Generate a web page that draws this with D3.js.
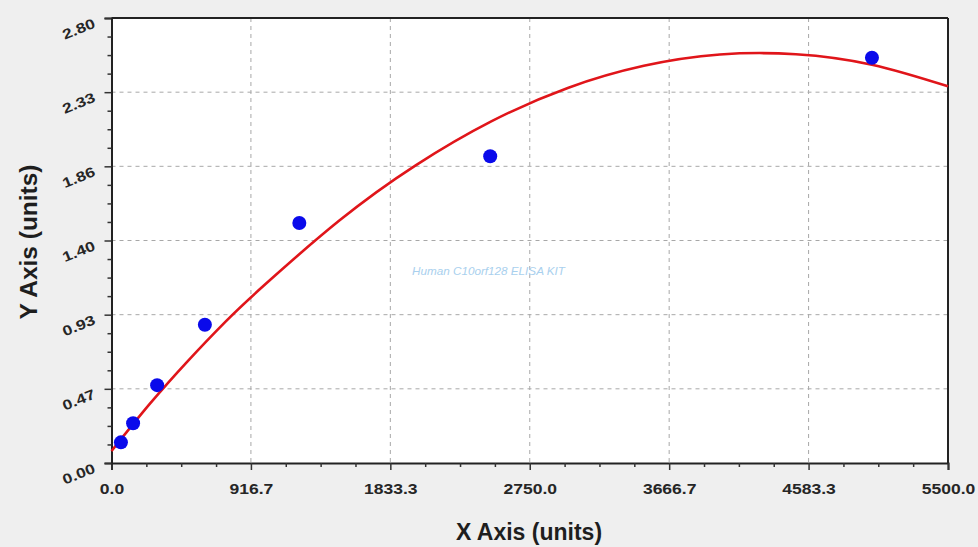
<!DOCTYPE html>
<html><head><meta charset="utf-8">
<script src="https://cdn.jsdelivr.net/npm/d3@7"></script>
<style>
html,body{margin:0;padding:0;background:#efefef;}
svg{display:block;}
text{font-family:"Liberation Sans",Arial,sans-serif;}
</style></head>
<body>
<script>
// Data
const pointX = [62, 142, 300, 614, 1235, 2490, 5000];
const pointY = [0.13, 0.25, 0.49, 0.87, 1.51, 1.93, 2.55];
const curveX = [0, 250, 500, 750, 1000, 1500, 2000, 2500, 3000, 3500, 4000, 4500, 5000, 5500];
const curveY = [0.075, 0.37, 0.64, 0.89, 1.115, 1.527, 1.873, 2.151, 2.36, 2.499, 2.57, 2.572, 2.506, 2.37];
const xTicks = [0, 916.7, 1833.3, 2750.0, 3666.7, 4583.3, 5500.0];
const yTicks = [0, 0.4667, 0.9333, 1.4, 1.8667, 2.3333, 2.8];
const yTickLabels = ["0.00", "0.47", "0.93", "1.40", "1.86", "2.33", "2.80"];
const xTitle = "X Axis (units)";
const yTitle = "Y Axis (units)";
const watermark = "Human C10orf128 ELISA KIT";

const W = 978, H = 547;
const m = {left: 111.5, right: 30, top: 18, bottom: 84};
const iw = W - m.left - m.right, ih = H - m.top - m.bottom;
const STRETCH = 1.25;

const svg = d3.select("body").append("svg").attr("width", W).attr("height", H);
svg.append("rect").attr("width", W).attr("height", H).attr("fill", "#efefef");

const x = d3.scaleLinear().domain([0, 5500]).range([0, iw]);
const y = d3.scaleLinear().domain([0, 2.8]).range([ih, 0]);

const g = svg.append("g").attr("transform", `translate(${m.left},${m.top})`);
g.append("rect").attr("width", iw).attr("height", ih).attr("fill", "#fff");

// grid
g.append("g").selectAll("line").data(xTicks.slice(1, -1)).join("line")
  .attr("x1", d => x(d)).attr("x2", d => x(d)).attr("y1", 0).attr("y2", ih)
  .attr("stroke", "#a8a8a8").attr("stroke-width", 1).attr("stroke-dasharray", "4,4");
g.append("g").selectAll("line").data(yTicks.slice(1, -1)).join("line")
  .attr("y1", d => y(d)).attr("y2", d => y(d)).attr("x1", 0).attr("x2", iw)
  .attr("stroke", "#a8a8a8").attr("stroke-width", 1).attr("stroke-dasharray", "4,4");

// minor ticks
const xMinor = d3.range(0, 24).map(i => i * 5500 / 24).filter((d, i) => i % 4 !== 0);
const yMinor = d3.range(0, 24).map(i => i * 2.8 / 24).filter((d, i) => i % 4 !== 0);

const xAxis = g.append("g").attr("transform", `translate(0,${ih})`)
  .call(d3.axisBottom(x).tickValues(xTicks).tickSize(7).tickFormat(d3.format(".1f")));
const yAxis = g.append("g")
  .call(d3.axisLeft(y).tickValues(yTicks).tickSize(7).tickFormat((d, i) => yTickLabels[i]));
g.append("g").attr("transform", `translate(0,${ih})`)
  .call(d3.axisBottom(x).tickValues(xMinor).tickSize(4).tickFormat(""))
  .call(a => a.select(".domain").remove());
g.append("g")
  .call(d3.axisLeft(y).tickValues(yMinor).tickSize(4).tickFormat(""))
  .call(a => a.select(".domain").remove());

[xAxis, yAxis].forEach(a => {
  a.select(".domain").attr("stroke", "#222").attr("stroke-width", 2);
});
g.selectAll(".tick line").attr("stroke", "#333").attr("stroke-width", 1.5);

function stretch(sel, k) {
  sel.each(function() {
    const w = this.getComputedTextLength();
    d3.select(this).attr("textLength", w * k).attr("lengthAdjust", "spacingAndGlyphs");
  });
}

xAxis.selectAll(".tick text").attr("dy", null).attr("y", 31)
  .attr("font-size", 14).attr("font-weight", "bold").attr("fill", "#262626")
  .call(stretch, STRETCH);
yAxis.selectAll(".tick text")
  .attr("x", -17).attr("y", 4).attr("dy", "0.35em")
  .attr("transform", "rotate(-22,-17,4)")
  .attr("font-size", 14).attr("font-weight", "bold").attr("fill", "#262626")
  .call(stretch, STRETCH);

// frame top & right
g.append("line").attr("x1", 0).attr("x2", iw).attr("y1", 0).attr("y2", 0).attr("stroke", "#222").attr("stroke-width", 2);
g.append("line").attr("x1", iw).attr("x2", iw).attr("y1", 0).attr("y2", ih).attr("stroke", "#222").attr("stroke-width", 2);

// watermark
g.append("text").attr("x", 412 - m.left).attr("y", 275 - m.top)
  .attr("font-size", 10.5).attr("font-style", "italic").attr("fill", "#a9d0ee")
  .text(watermark).attr("textLength", 153).attr("lengthAdjust", "spacingAndGlyphs");

// curve
const curveData = curveX.map((d, i) => [d, curveY[i]]);
g.append("path").datum(curveData)
  .attr("d", d3.line().x(d => x(d[0])).y(d => y(d[1])).curve(d3.curveNatural))
  .attr("fill", "none").attr("stroke", "#e0151a").attr("stroke-width", 2.6);

// points
g.selectAll("circle.pt").data(pointX.map((d, i) => [d, pointY[i]])).join("circle")
  .attr("class", "pt").attr("cx", d => x(d[0])).attr("cy", d => y(d[1]))
  .attr("r", 7).attr("fill", "#0a0aeb");

// titles
svg.append("text").attr("x", 529).attr("y", 540).attr("text-anchor", "middle")
  .attr("font-size", 23).attr("font-weight", "bold").attr("fill", "#1e1e1e").text(xTitle);
svg.append("text").attr("transform", `translate(37,242) rotate(-90)`)
  .attr("text-anchor", "middle")
  .attr("font-size", 23).attr("font-weight", "bold").attr("fill", "#1e1e1e").text(yTitle)
  .attr("textLength", 155).attr("lengthAdjust", "spacingAndGlyphs");
</script>
</body></html>
